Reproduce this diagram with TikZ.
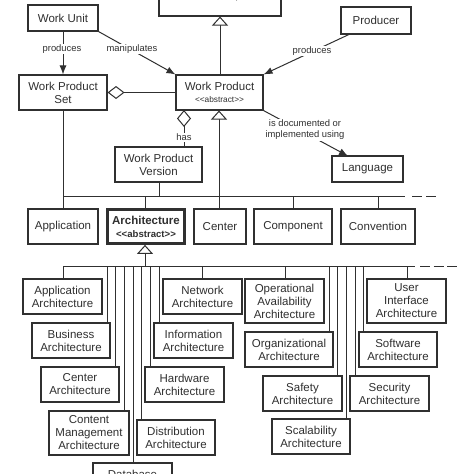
\documentclass[tikz,border=0pt]{standalone}
\usepackage{fontspec}
\setmainfont{Liberation Sans}
\usetikzlibrary{arrows.meta}
\definecolor{ink}{HTML}{303030}
\tikzset{
  box/.style={draw=ink, line width=1.1pt, fill=white, text=ink, inner sep=1pt, align=center,
    font=\fontsize{11.5}{13}\selectfont},
  lbl/.style={fill=white, text=ink, inner sep=1pt, align=center, font=\fontsize{9.4}{11}\selectfont},
  conn/.style={draw=ink, line width=1pt},
  arr/.style={conn, -{Latex[length=9pt,width=7pt]}},
  gen/.style={conn, -{Triangle[open,length=9pt,width=16pt,fill=white]}},
  aggh/.style={conn, {Diamond[open,length=17pt,width=13pt,fill=white]}-},
  aggv/.style={conn, {Diamond[open,length=17pt,width=14pt,fill=white]}-}
}
\begin{document}
\begin{tikzpicture}[x=1pt,y=-1pt]
\useasboundingbox (0,0) rectangle (474,474);
% ---- top part
\node[box,minimum width=122pt,minimum height=40pt] (mc) at (220,-4) {\raisebox{-5pt}{Method Component}};
\node[box,minimum width=70pt,minimum height=26pt] (wu) at (63,18) {Work Unit};
\node[box,minimum width=70pt,minimum height=27pt] (prod) at (376,20.5) {Producer};
\node[box,minimum width=88pt,minimum height=35pt] (wps) at (63,92.5) {Work Product\\Set};
\node[box,minimum width=87pt,minimum height=35pt] (wp) at (219.5,92.5) {Work Product\\[-1pt]{\fontsize{8.3}{10}\selectfont <{}<abstract>{}>}};
\node[box,minimum width=87pt,minimum height=35pt] (wpv) at (158.5,164.5) {Work Product\\Version};
\node[box,minimum width=71pt,minimum height=26pt] (lang) at (367.5,169) {Language};
% ---- second row
\node[box,minimum width=70pt,minimum height=35pt] (app) at (63,226.5) {Application};
\node[box,line width=2.8pt,minimum width=77pt,minimum height=34pt] (arch) at (146,226.5) {\textbf{Architecture}\\{\fontsize{9.6}{11}\selectfont\textbf{<{}<abstract>{}>}}};
\node[box,minimum width=52pt,minimum height=35pt] (cen) at (220,226.5) {Center};
\node[box,minimum width=78pt,minimum height=35pt] (comp) at (293,226.5) {Component};
\node[box,minimum width=74pt,minimum height=35pt] (conv) at (378,226.5) {Convention};
% ---- architecture kinds
\node[box,minimum width=79pt,minimum height=35pt] (aa) at (62.5,296.5) {Application\\Architecture};
\node[box,minimum width=78pt,minimum height=35pt] (ba) at (71,340.5) {Business\\Architecture};
\node[box,minimum width=78pt,minimum height=35pt] (ca) at (80,384.5) {Center\\Architecture};
\node[box,minimum width=80pt,minimum height=44pt] (cma) at (89,433) {Content\\Management\\Architecture};
\node[box,minimum width=79pt,minimum height=35pt] (dba) at (132.5,480.5) {Database\\\phantom{Architecture}};
\node[box,minimum width=78pt,minimum height=35pt] (da) at (176,437.5) {Distribution\\Architecture};
\node[box,minimum width=79pt,minimum height=35pt] (ha) at (184.5,384.5) {Hardware\\Architecture};
\node[box,minimum width=79pt,minimum height=35pt] (ia) at (193.5,340.5) {Information\\Architecture};
\node[box,minimum width=79pt,minimum height=35pt] (na) at (202.5,296.5) {Network\\Architecture};
\node[box,minimum width=79pt,minimum height=44pt] (oaa) at (284.5,301) {Operational\\Availability\\Architecture};
\node[box,minimum width=88pt,minimum height=35pt] (ora) at (289,349.5) {Organizational\\Architecture};
\node[box,minimum width=79pt,minimum height=35pt] (sfa) at (302.5,393.5) {Safety\\Architecture};
\node[box,minimum width=78pt,minimum height=35pt] (sca) at (311,436.5) {Scalability\\Architecture};
\node[box,minimum width=79pt,minimum height=35pt] (sea) at (389.5,393.5) {Security\\Architecture};
\node[box,minimum width=78pt,minimum height=35pt] (swa) at (398,349.5) {Software\\Architecture};
\node[box,minimum width=79pt,minimum height=44pt] (uia) at (406.5,301) {User\\Interface\\Architecture};
% ---- bus coordinates
\coordinate (ubL) at (63,196);
\coordinate (ubR) at (405,196);
\coordinate (ubG) at (412,196);
\coordinate (ubD) at (436,196);
\coordinate (ubArch) at (145,196);
\coordinate (ubWpv) at (159,196);
\coordinate (ubComp) at (293,196);
\coordinate (ubConv) at (378,196);
\coordinate (lbL) at (63,266);
\coordinate (lbR) at (415,266);
\coordinate (lbG) at (420,266);
\coordinate (lbD) at (459,266);
\coordinate (lbArch) at (145,266);
\foreach \n/\x in {aa/63,ba/107,ca/115,cma/124,dba/133,da/141,ha/150,ia/159,na/202,oaa/285,ora/329,sfa/337,sca/346,sea/355,swa/363,uia/407}{
  \coordinate (lb\n) at (\x,266);
  \draw[conn] (lb\n) -- (\n.north -| lb\n);
}
% ---- buses
\draw[conn] (ubL) -- (ubR);
\draw[conn, dash pattern=on 10pt off 4pt] (ubG) -- (ubD);
\draw[conn] (lbL) -- (lbR);
\draw[conn, dash pattern=on 10pt off 3.5pt] (lbG) -- (lbD);
\draw[conn] (wps.south) -- (app.north);
\draw[conn] (ubArch) -- (arch.north -| ubArch);
\draw[conn] (wpv.south -| ubWpv) -- (ubWpv);
\draw[conn] (ubComp) -- (comp.north);
\draw[conn] (ubConv) -- (conv.north);
% ---- generalizations
\draw[gen] (wp.north -| mc.south) -- (mc.south);
\draw[gen] (cen.north -| 219,0) -- (wp.south -| 219,0);
\draw[gen] (lbArch) -- (arch.south -| lbArch);
% ---- aggregations
\draw[aggh] (wps.east) -- (wp.west |- wps.east);
\coordinate (hasTop) at (184,110);
\draw[aggv] (hasTop) -- (wpv.north -| hasTop);
% ---- associations
\draw[arr] (wu.south) -- (wps.north);
\draw[arr] (wu.south east) -- (wp.north west);
\coordinate (prodFoot) at (350,34);
\draw[arr] (prodFoot) -- (wp.north east);
\coordinate (langIn) at (348,156);
\draw[arr] (wp.south east) -- (langIn);
% ---- labels
\node[lbl] (l1) at (62,49) {produces};
\node[lbl] (l2) at (132,49) {manipulates};
\node[lbl] (l3) at (312,51) {produces};
\node[lbl] (l4) at (184,137.5) {has};
\node[lbl] (l5) at (305,130) {is documented or\\implemented using};
\end{tikzpicture}
\end{document}
